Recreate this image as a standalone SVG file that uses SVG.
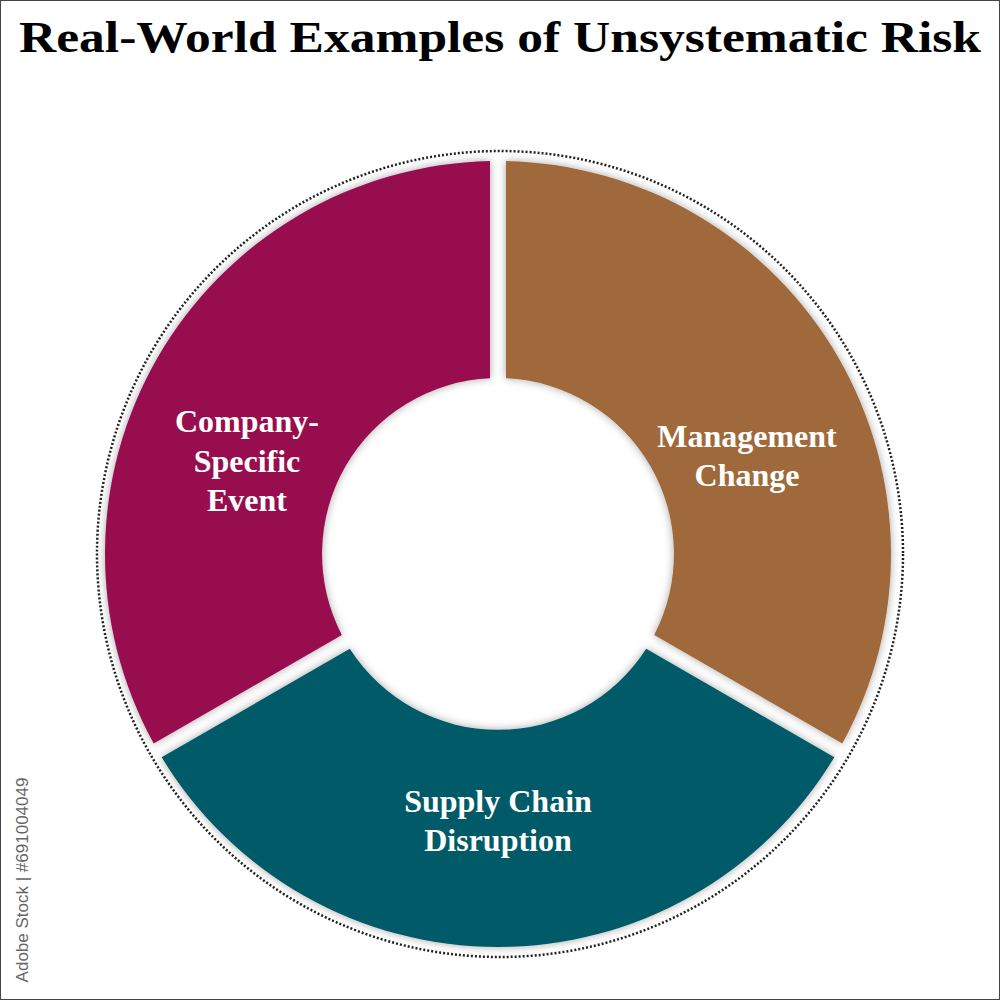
<svg xmlns="http://www.w3.org/2000/svg" width="1000" height="1000" viewBox="0 0 1000 1000">
<defs>
<filter id="sh" x="-10%" y="-10%" width="120%" height="120%"><feDropShadow dx="0" dy="0" stdDeviation="4" flood-color="#000" flood-opacity="0.35"/></filter>
<style>
.lbl{font-family:"Liberation Serif",serif;font-weight:bold;font-size:32px;fill:#fff;text-anchor:middle}
.seg{filter:url(#sh)}
</style>
</defs>
<rect x="0.5" y="0.5" width="999" height="999" fill="#fff" stroke="#444" stroke-width="1"/>
<text x="500" y="52" font-family="Liberation Serif,serif" font-weight="bold" font-size="44" text-anchor="middle" textLength="962" lengthAdjust="spacingAndGlyphs">Real-World Examples of Unsystematic Risk</text>
<circle cx="500" cy="554" r="403" fill="none" stroke="#222" stroke-width="2.5" stroke-dasharray="2 2"/>
<g id="company">
<path class="seg" fill="#970A4E" d="M490,161.1 A393,393 0 0 0 153.7,743.5 L341.8,635 A176,176 0 0 1 490,378.2 Z"/>
<text class="lbl" x="247" y="432">Company-</text>
<text class="lbl" x="247" y="472">Specific</text>
<text class="lbl" x="247" y="511">Event</text>
</g>
<g id="management">
<path class="seg" fill="#A0693A" d="M506,161.1 A393,393 0 0 1 842.3,743.5 L654.2,635 A176,176 0 0 0 506,378.2 Z"/>
<text class="lbl" x="747" y="447">Management</text>
<text class="lbl" x="747" y="486">Change</text>
</g>
<g id="supply">
<path class="seg" fill="#005A68" d="M834.3,757.3 A393,393 0 0 1 161.7,757.3 L349.8,648.8 A176,176 0 0 0 646.2,648.8 Z"/>
<text class="lbl" x="498" y="812">Supply Chain</text>
<text class="lbl" x="498" y="851">Disruption</text>
</g>
<g id="connectors"></g>
<text transform="translate(28,880) rotate(-90)" font-family="Liberation Sans,sans-serif" font-size="17" fill="#666" text-anchor="middle">Adobe Stock | #691004049</text>
</svg>
